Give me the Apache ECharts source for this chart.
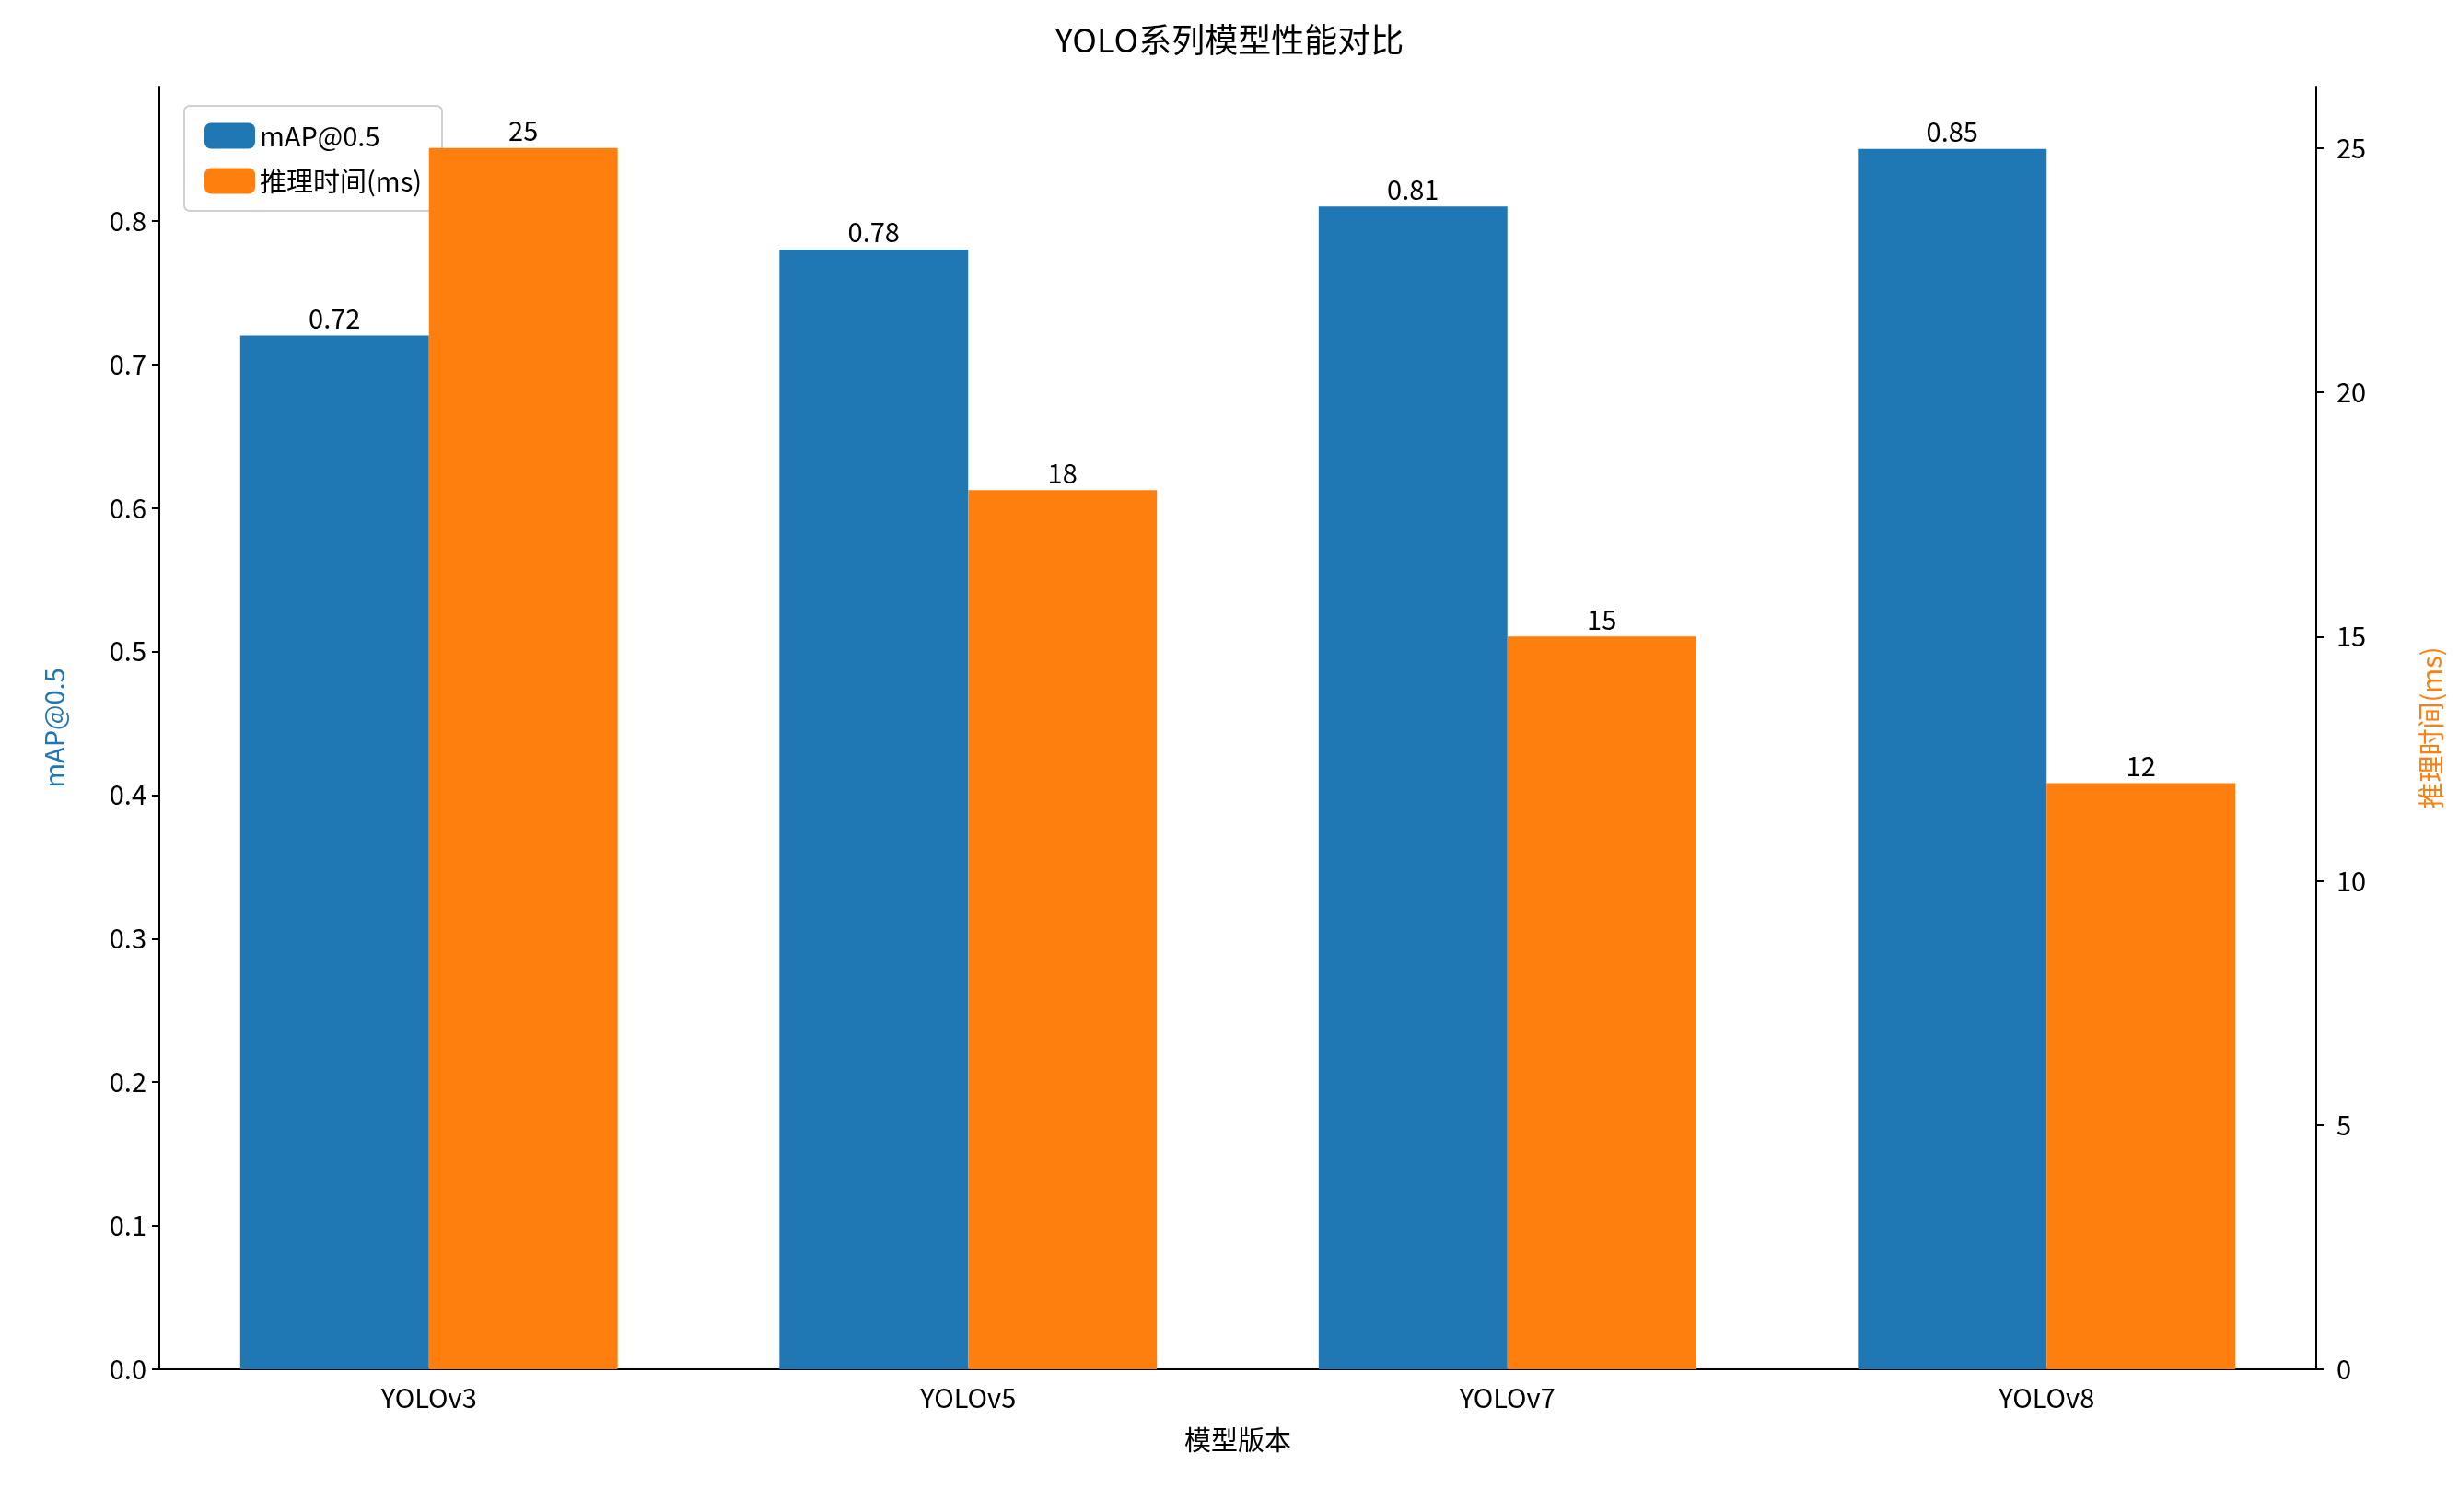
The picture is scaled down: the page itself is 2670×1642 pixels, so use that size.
<!DOCTYPE html>
<html><head><meta charset="utf-8">
<script src="https://cdn.jsdelivr.net/npm/echarts@6/dist/echarts.min.js"></script>
<style>html,body{margin:0;background:#fff}#c{width:2670px;height:1642px}</style>
</head><body><div id="c"></div>
<script>
// model comparison data
var models = ['YOLOv3', 'YOLOv5', 'YOLOv7', 'YOLOv8'];
var mapValues = [0.72, 0.78, 0.81, 0.85];
var timeValues = [25, 18, 15, 12];

var font = '"Noto Sans CJK SC", "Noto Sans", sans-serif';
var chart = echarts.init(document.getElementById('c'));
chart.setOption({
	animation: false,
	textStyle: { fontFamily: font },
	title: {
		text: 'YOLO系列模型性能对比', left: 'center', top: 20,
		textStyle: { fontSize: 36, fontWeight: 'normal', color: '#000', fontFamily: font }
	},
	legend: {
		left: 200, top: 115, orient: 'vertical', itemWidth: 55, itemHeight: 28, itemGap: 20,
		padding: [18, 22], borderColor: '#d0d0d0', borderWidth: 2, borderRadius: 6,
		textStyle: { fontSize: 29, color: '#000' },
		data: ['mAP@0.5', '推理时间(ms)']
	},
	grid: { left: 173, right: 155, top: 94, bottom: 155 },
	xAxis: {
		type: 'category', data: models,
		name: '模型版本', nameLocation: 'middle', nameGap: 62,
		nameTextStyle: { fontSize: 29, color: '#000' },
		axisLine: { lineStyle: { color: '#000', width: 2 } },
		axisTick: { alignWithLabel: true, length: 8, lineStyle: { color: '#000', width: 2 } },
		axisLabel: { fontSize: 29, color: '#000', margin: 16 }
	},
	yAxis: [{
		type: 'value', min: 0, max: 0.8935, interval: 0.1,
		name: 'mAP@0.5', nameLocation: 'middle', nameGap: 100,
		nameTextStyle: { fontSize: 29, color: '#1f77b4' },
		splitLine: { show: false },
		axisLine: { show: true, lineStyle: { color: '#000', width: 2 } },
		axisTick: { show: true, length: 8, lineStyle: { color: '#000', width: 2 } },
		axisLabel: { fontSize: 29, color: '#000', margin: 14, showMaxLabel: false,
			formatter: function (v) { return v.toFixed(1); } }
	}, {
		type: 'value', min: 0, max: 26.26, interval: 5,
		name: '推理时间(ms)', nameLocation: 'middle', nameGap: 110,
		nameTextStyle: { fontSize: 29, color: '#ff7f0e' },
		splitLine: { show: false },
		axisLine: { show: true, lineStyle: { color: '#000', width: 2 } },
		axisTick: { show: true, length: 8, lineStyle: { color: '#000', width: 2 } },
		axisLabel: { fontSize: 29, color: '#000', margin: 22, showMaxLabel: false }
	}],
	series: [{
		name: 'mAP@0.5', type: 'bar', data: mapValues, yAxisIndex: 0,
		barWidth: '35%', barGap: '0%', itemStyle: { color: '#1f77b4' },
		label: { show: true, position: 'top', fontSize: 29, color: '#000', distance: 4 }
	}, {
		name: '推理时间(ms)', type: 'bar', data: timeValues, yAxisIndex: 1,
		barWidth: '35%', barGap: '0%', itemStyle: { color: '#ff7f0e' }, zlevel: 1,
		label: { show: true, position: 'top', fontSize: 29, color: '#000', distance: 4 }
	}]
});
</script></body></html>
